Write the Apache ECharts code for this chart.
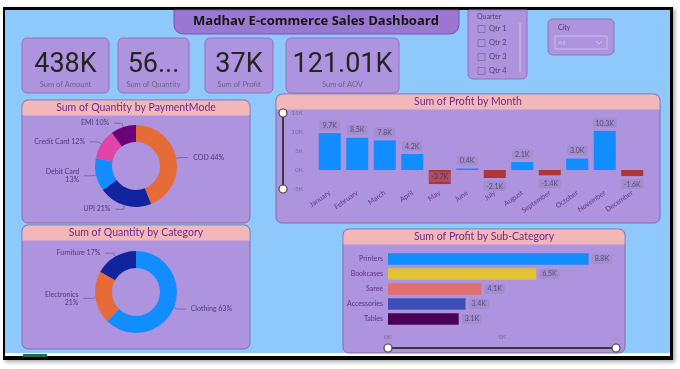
<!DOCTYPE html>
<html><head><meta charset="utf-8">
<script src="https://cdn.jsdelivr.net/npm/echarts@6/dist/echarts.min.js"></script>
<style>html,body{margin:0;padding:0;background:#fff}#c{width:680px;height:369px}</style>
</head><body><div id="c"></div>
<script>
// ---- data ----
const dashboardTitle = 'Madhav E-commerce Sales Dashboard';
const kpiValues = ['438K', '56...', '37K', '121.01K'];
const kpiLabels = ['Sum of Amount', 'Sum of Quantity', 'Sum of Profit', 'Sum of AOV'];
const quarterOptions = ['Qtr 1', 'Qtr 2', 'Qtr 3', 'Qtr 4'];
const cityOptions = ['All'];
const paymentModes = ['COD', 'UPI', 'Debit Card', 'Credit Card', 'EMI'];
const paymentShare = [44, 21, 13, 12, 10];
const categories = ['Clothing', 'Electronics', 'Furniture'];
const categoryShare = [63, 21, 17];
const months = ['January', 'February', 'March', 'April', 'May', 'June', 'July', 'August', 'September', 'October', 'November', 'December'];
const monthProfit = [9700, 8500, 7800, 4200, -3700, 400, -2100, 2100, -1400, 3000, 10300, -1600];
const subCategories = ['Printers', 'Bookcases', 'Saree', 'Accessories', 'Tables'];
const subCategoryProfit = [8800, 6500, 4100, 3400, 3100];
const monthTickLabels = ['-5K', '0K', '5K', '10K', '15K'];
const subCatTickLabels = ['0K', '5K', '...'];
const wrappedLabels = ['Debit Card', 'Electronics'];

// ---- styles ----
const FONT = 'Lato, "Noto Sans", sans-serif';
const CARD = '#AE94DF', CARD_BORDER = '#8C74BC', HEAD = '#F2B7B9', PANEL_BORDER = '#7F6FA3';
const TXT_PURPLE = '#5E2F82', AXIS_GRAY = '#7A6A9E';
const paymentColors = ['#E66C37', '#12239E', '#118DFF', '#E044A7', '#6B007B'];
const categoryColors = ['#118DFF', '#E66C37', '#12239E'];
const subCatColors = ['#118DFF', '#E0C232', '#E07070', '#3D50B8', '#4B0058'];
const POS = '#118DFF', NEG = '#B03636';
const kfmt = v => (v / 1000).toFixed(1) + 'K';
const valueBox = { fontSize: 7, fontFamily: FONT, color: '#5A4A82', backgroundColor: '#A28DCD', padding: [2, 3, 1, 3], borderRadius: 2 };

const g = [];
// frame
g.push({ type: 'rect', shape: { x: 3, y: 7, width: 670, height: 353 }, style: { fill: '#000', shadowBlur: 4, shadowColor: 'rgba(0,0,0,0.35)', shadowOffsetX: 2, shadowOffsetY: 2 }, z: -5 });
g.push({ type: 'rect', shape: { x: 5, y: 10, width: 665, height: 343 }, style: { fill: '#8FC8FA' }, z: -5 });
g.push({ type: 'rect', shape: { x: 5, y: 353, width: 665, height: 3 }, style: { fill: '#fff' }, z: -5 });
g.push({ type: 'rect', shape: { x: 23, y: 354, width: 24, height: 3 }, style: { fill: '#1E6B50' }, z: -4 });
// title
g.push({ type: 'rect', shape: { x: 174, y: 10, width: 285, height: 24, r: [0, 0, 9, 9] }, style: { fill: '#9A77D0', stroke: '#7656B2', lineWidth: 1 }, z: -4 });
g.push({ type: 'text', style: { text: dashboardTitle, x: 316, y: 21, textAlign: 'center', textVerticalAlign: 'middle', fill: '#161616', fontSize: 13, fontWeight: 'bold', fontFamily: '"Open Sans", sans-serif' }, z: 5 });
// KPI cards
const kpiBoxes = [[22, 87], [118, 71], [205, 68], [286, 113]];
kpiBoxes.forEach((b, i) => {
  g.push({ type: 'rect', shape: { x: b[0], y: 38, width: b[1], height: 55, r: 5 }, style: { fill: CARD, stroke: CARD_BORDER, lineWidth: 1 }, z: -4 });
  g.push({ type: 'text', style: { text: kpiValues[i], x: b[0] + b[1] / 2, y: 65, textAlign: 'center', textVerticalAlign: 'middle', fill: '#252423', fontSize: 27, fontFamily: 'Roboto, sans-serif' }, z: 5 });
  g.push({ type: 'text', style: { text: kpiLabels[i], x: b[0] + b[1] / 2, y: 85, textAlign: 'center', textVerticalAlign: 'middle', fill: '#6E6488', fontSize: 7.5, fontFamily: FONT }, z: 5 });
});
// Quarter slicer
g.push({ type: 'rect', shape: { x: 468, y: 10, width: 59, height: 69, r: [0, 0, 5, 5] }, style: { fill: CARD, stroke: CARD_BORDER, lineWidth: 1 }, z: -4 });
g.push({ type: 'text', style: { text: 'Quarter', x: 477, y: 17, textVerticalAlign: 'middle', fill: '#4E4466', fontSize: 7, fontFamily: FONT }, z: 5 });
g.push({ type: 'line', shape: { x1: 520, y1: 23, x2: 520, y2: 72 }, style: { stroke: '#BFAEE2', lineWidth: 2 }, z: 5 });
quarterOptions.forEach((q, i) => {
  const cy = 29 + i * 14;
  g.push({ type: 'rect', shape: { x: 478, y: cy - 3.5, width: 7, height: 7 }, style: { fill: 'none', stroke: '#7C6C9C', lineWidth: 0.8 }, z: 5 });
  g.push({ type: 'text', style: { text: q, x: 489, y: cy, textVerticalAlign: 'middle', fill: '#4E4466', fontSize: 7.5, fontFamily: FONT }, z: 5 });
});
// City slicer
g.push({ type: 'rect', shape: { x: 548, y: 19, width: 66, height: 36, r: 5 }, style: { fill: CARD, stroke: CARD_BORDER, lineWidth: 1 }, z: -4 });
g.push({ type: 'text', style: { text: 'City', x: 558, y: 28, textVerticalAlign: 'middle', fill: '#4E4466', fontSize: 7, fontFamily: FONT }, z: 5 });
g.push({ type: 'rect', shape: { x: 555, y: 36, width: 52, height: 13 }, style: { fill: 'none', stroke: '#CDBDEB', lineWidth: 1 }, z: 5 });
g.push({ type: 'text', style: { text: cityOptions[0], x: 558, y: 42.5, textVerticalAlign: 'middle', fill: '#CDBDEB', fontSize: 6.5, fontFamily: FONT }, z: 5 });
g.push({ type: 'polyline', shape: { points: [[596, 41], [599, 44], [602, 41]] }, style: { fill: 'none', stroke: '#CDBDEB', lineWidth: 1 }, z: 5 });
// panels
function panel(x, y, w, h, title) {
  g.push({ type: 'rect', shape: { x: x, y: y, width: w, height: h, r: 6 }, style: { fill: CARD, stroke: PANEL_BORDER, lineWidth: 1 }, z: -4 });
  g.push({ type: 'rect', shape: { x: x + 0.5, y: y + 0.5, width: w - 1, height: 15, r: [6, 6, 0, 0] }, style: { fill: HEAD }, z: -3 });
  g.push({ type: 'text', style: { text: title, x: x + w / 2, y: y + 8, textAlign: 'center', textVerticalAlign: 'middle', fill: '#6A2C8E', fontSize: 10.5, fontFamily: FONT }, z: 5 });
}
panel(22, 100, 228, 123, 'Sum of Quantity by PaymentMode');
panel(276, 94, 384, 129, 'Sum of Profit by Month');
panel(22, 225, 228, 124, 'Sum of Quantity by Category');
panel(343, 229, 282, 124, 'Sum of Profit by Sub-Category');
// sliders
function slider(x1, y1, x2, y2) {
  g.push({ type: 'line', shape: { x1, y1, x2, y2 }, style: { stroke: '#3A3A3A', lineWidth: 2 }, z: 6 });
  [[x1, y1], [x2, y2]].forEach(p => g.push({ type: 'circle', shape: { cx: p[0], cy: p[1], r: 4 }, style: { fill: '#fff', stroke: '#444', lineWidth: 1.2 }, z: 7 }));
}
slider(283, 113, 283, 189);
slider(388, 348, 616, 348);

const pieLabel = {
  fontSize: 7, fontFamily: FONT, color: '#553775', lineHeight: 8,
  formatter: p => p.name + (wrappedLabels.includes(p.name) ? '\n' : ' ') + p.value + '%'
};
const pieLine = { length: 4, length2: 8, lineStyle: { color: '#6E5E90', width: 0.8 } };

const option = {
  animation: false,
  graphic: g,
  grid: [
    { left: 316, top: 113, width: 330, height: 76 },
    { left: 388, top: 251.5, width: 228, height: 75 }
  ],
  xAxis: [
    { type: 'category', gridIndex: 0, data: months, axisLine: { show: false }, axisTick: { show: false },
      axisLabel: { rotate: 35, fontSize: 7, fontFamily: FONT, color: '#64358A', margin: 3, interval: 0 } },
    { type: 'value', gridIndex: 1, min: 0, max: 10000, interval: 5000, splitLine: { show: false },
      axisLabel: { fontSize: 6.5, fontFamily: FONT, color: AXIS_GRAY, margin: 7, formatter: v => subCatTickLabels[Math.round(v / 5000)] } }
  ],
  yAxis: [
    { type: 'value', gridIndex: 0, min: -5000, max: 15000, interval: 5000, splitLine: { show: false },
      axisLabel: { fontSize: 6.5, fontFamily: FONT, color: AXIS_GRAY, margin: 13, formatter: v => monthTickLabels[Math.round((v + 5000) / 5000)] } },
    { type: 'category', gridIndex: 1, data: subCategories, inverse: true, axisLine: { show: false }, axisTick: { show: false },
      axisLabel: { fontSize: 7, fontFamily: FONT, color: TXT_PURPLE, margin: 5 } }
  ],
  series: [
    { type: 'pie', center: [136, 166], radius: [24, 41], startAngle: 90, clockwise: true,
      data: paymentModes.map((n, i) => ({ name: n, value: paymentShare[i], itemStyle: { color: paymentColors[i] } })),
      label: pieLabel, labelLine: pieLine },
    { type: 'pie', center: [136, 292], radius: [24, 41], startAngle: 90, clockwise: true,
      data: categories.map((n, i) => ({ name: n, value: categoryShare[i], itemStyle: { color: categoryColors[i] } })),
      label: pieLabel, labelLine: pieLine },
    { type: 'bar', xAxisIndex: 0, yAxisIndex: 0, barWidth: 22,
      data: monthProfit.map(v => ({ value: v, itemStyle: { color: v >= 0 ? POS : NEG },
        label: Object.assign({ show: true, position: v >= 0 ? 'top' : (v < -3000 ? 'inside' : 'bottom'), distance: 3, formatter: p => kfmt(p.value) }, valueBox,
          v < -3000 ? { backgroundColor: 'rgba(160,120,170,0.35)', color: '#6A3050' } : {}) })) },
    { type: 'bar', xAxisIndex: 1, yAxisIndex: 1, barWidth: 11.5,
      data: subCategoryProfit.map((v, i) => ({ value: v, itemStyle: { color: subCatColors[i] } })),
      label: Object.assign({ show: true, position: 'right', distance: 3, formatter: p => kfmt(p.value) }, valueBox) }
  ]
};
echarts.init(document.getElementById('c')).setOption(option);
</script></body></html>
